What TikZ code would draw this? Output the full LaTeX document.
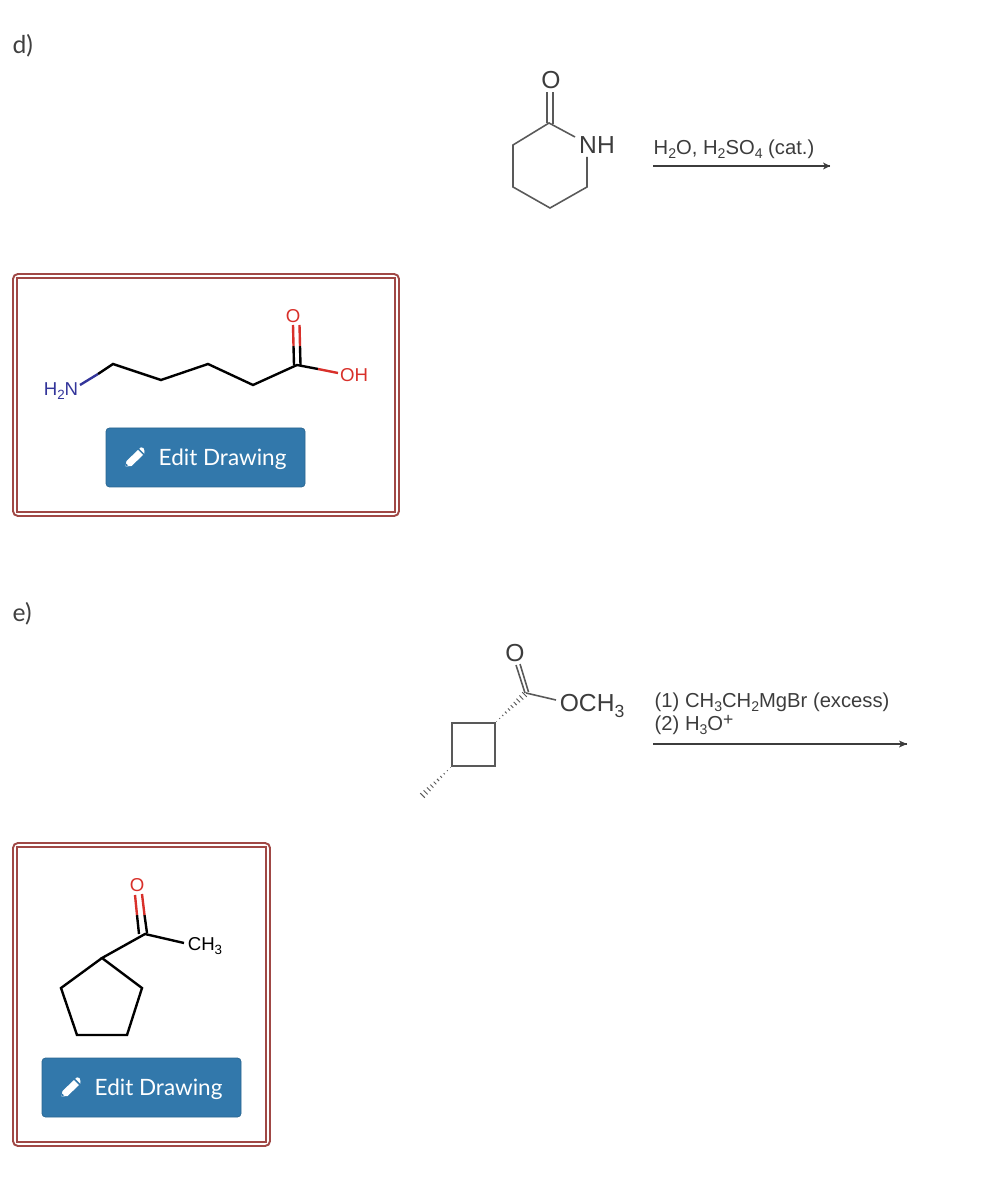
\documentclass[tikz,border=0pt]{standalone}
\usepackage{fontspec}
\setmainfont{Lato}
\newfontfamily\chemfont{Liberation Sans}
\usetikzlibrary{calc}
\definecolor{boxred}{HTML}{A04845}
\definecolor{btnblue}{HTML}{3278AB}
\definecolor{oxred}{HTML}{D8302A}
\definecolor{niblue}{HTML}{33359A}
\definecolor{printgray}{HTML}{3C3C3C}
\tikzset{
	bond/.style={draw=black, line width=0.68pt, line join=miter},
	redbond/.style={draw=oxred, line width=0.68pt},
	bluebond/.style={draw=niblue, line width=0.68pt},
	printbond/.style={draw=printgray!85, line width=0.45pt, line join=miter},
	hashbond/.style={draw=printgray!85, line width=0.26pt},
	rxnarrow/.style={draw=printgray, line width=0.5pt},
	partlabel/.style={anchor=west, inner sep=0pt, font=\fontsize{7}{8}\selectfont, text=black!75},
	atomlabel/.style={inner sep=0.6pt, font=\chemfont\fontsize{5.3}{6}\selectfont},
	printatom/.style={inner sep=0.6pt, text=printgray, font=\chemfont\fontsize{7}{8}\selectfont},
	reagent/.style={anchor=west, inner sep=0pt, text=printgray, font=\chemfont\fontsize{5.75}{6}\selectfont},
	editbtn/.style={fill=btnblue, rounded corners=1pt, draw=btnblue!85!black, line width=0.2pt},
	edittext/.style={anchor=west, inner sep=0pt, text=white, font=\fontsize{6.4}{8}\selectfont},
}
\newcommand\Sb[2][4]{\raisebox{-0.4ex}{\fontsize{#1}{#1}\selectfont #2}}
\newcommand\Answerbox[4]{
	\draw[boxred, line width=0.55pt, rounded corners=1.4pt] (#1,#2) rectangle (#3,#4);
	\draw[boxred, line width=0.55pt] ($(#1,#2)+(4,4)$) rectangle ($(#3,#4)+(-4,-4)$);
	}
\newcommand\Pencil[2]{
	\begin{scope}[shift={(#1,#2)}]
		\fill[white] (-10,9.5) -- (-9,4) -- (2.5,-7) -- (7.5,-2) -- (-4,9) -- cycle;
		\fill[white] (3.8,-8.2) -- (5.5,-9.7) .. controls (7,-10.5) and (9.5,-8) .. (9,-6) -- (8.8,-3.3) -- cycle;
		\fill[btnblue] (-9.6,8.9) -- (-9.2,6.6) -- (-7.3,8.5) -- cycle;
	\end{scope}
	}
\newcommand\Hashes[2]{
	\foreach \t in {0.05,0.15,...,0.97}{
		\draw[hashbond] ($(#1)!\t!(#2)!{3.4*\t*0.2845pt}!90:(#2)$) -- ($(#1)!\t!(#2)!{3.4*\t*0.2845pt}!-90:(#2)$);
	}
	}

\begin{document}
\begin{tikzpicture}[x=0.01cm, y=-0.01cm]
	\useasboundingbox (0,0) rectangle (1000,1186);
	\node[partlabel] (labeld) at (12,46) {d)};
	\node[partlabel] (labele) at (12,614) {e)};

	% lactam
	\node[printatom] (lacO) at (551,80) {O};
	\node[printatom] (lacNH) at (597,145) {NH};
	\coordinate (lacA) at (549,123);
	\coordinate (lacB) at (513,145);
	\coordinate (lacC) at (513,187);
	\coordinate (lacD) at (550,208);
	\coordinate (lacE) at (587,187);
	\coordinate (lacN) at (587,157);
	\coordinate (lacF) at (575,137);
	\coordinate (lacO1) at (547,92);
	\coordinate (lacO2) at (553,92);
	\coordinate (lacA2) at (553,124);
	\draw[printbond] (lacF) -- (lacA) -- (lacB) -- (lacC) -- (lacD) -- (lacE) -- (lacN);
	\draw[printbond] (lacA) ++(-2,0) -- (lacO1);
	\draw[printbond] (lacA2) -- (lacO2);
	\node[reagent] (reagd) at (653,149) {H\Sb{2}O, H\Sb{2}SO\Sb{4} (cat.)};
	\coordinate (arrdA) at (653,166);
	\coordinate (arrdB) at (830,166);
	\draw[rxnarrow] (arrdA) -- (arrdB);
	\fill[printgray] (830,166) -- (823,162.5) -- (825,166) -- (823,169.5) -- cycle;

	% first answer
	\Answerbox{13}{274}{399}{516}
	\node[atomlabel, text=niblue] (amN) at (61,391) {H\Sb[3.8]{2}N};
	\node[atomlabel, text=oxred] (acO) at (293,316) {O};
	\node[atomlabel, text=oxred] (acOH) at (354,375.5) {OH};
	\coordinate (amA) at (80,385);
	\coordinate (amB) at (98,374);
	\coordinate (amC) at (113,364);
	\coordinate (amD) at (161,380);
	\coordinate (amE) at (208,364);
	\coordinate (amF) at (253,385);
	\coordinate (amG) at (297,365);
	\coordinate (amH) at (318,369);
	\coordinate (amI) at (338,373);
	\coordinate (dblA) at (293.5,346);
	\coordinate (dblB) at (293,325);
	\coordinate (dblC) at (294,365);
	\coordinate (dblD) at (300,346);
	\coordinate (dblE) at (299.5,325);
	\coordinate (dblF) at (300.5,365);
	\draw[bluebond] (amA) -- (amB);
	\draw[bond] (amB) -- (amC) -- (amD) -- (amE) -- (amF) -- (amG) -- (amH);
	\draw[redbond] (amH) -- (amI);
	\draw[bond] (dblC) -- (dblA);
	\draw[redbond] (dblA) -- (dblB);
	\draw[bond] (dblF) -- (dblD);
	\draw[redbond] (dblD) -- (dblE);
	\draw[editbtn] (106,428) rectangle (305,487);
	\Pencil{135.5}{457}
	\node[edittext] (editd) at (158,459) {Edit Drawing};

	% ester
	\node[printatom] (estO) at (515,653) {O};
	\node[printatom, anchor=west] (estOMe) at (557,706) {OCH\Sb[5]{3}};
	\coordinate (estA) at (452,723);
	\coordinate (estB) at (495,723);
	\coordinate (estC) at (495,766);
	\coordinate (estD) at (452,766);
	\coordinate (estE) at (526,693);
	\coordinate (estF) at (556,700);
	\coordinate (estG) at (421,797);
	\coordinate (estH) at (525,693);
	\coordinate (estI) at (516,665);
	\coordinate (estJ) at (528.5,692);
	\coordinate (estK) at (520,664);
	\draw[printbond] (estA) -- (estB) -- (estC) -- (estD) -- cycle;
	\draw[printbond] (estE) -- (estF);
	\draw[printbond] (estH) -- (estI);
	\draw[printbond] (estJ) -- (estK);
	\Hashes{estB}{estE}
	\Hashes{estD}{estG}
	\node[reagent] (reage) at (654,702) {(1) CH\Sb{3}CH\Sb{2}MgBr (excess)};
	\node[reagent] (reagf) at (654,725) {(2) H\Sb{3}O\raisebox{0.5ex}{\fontsize{5}{5}\selectfont +}};
	\coordinate (arreA) at (653,744);
	\coordinate (arreB) at (907,744);
	\draw[rxnarrow] (arreA) -- (arreB);
	\fill[printgray] (907,744) -- (899,740.5) -- (901,744) -- (899,747.5) -- cycle;

	% second answer
	\Answerbox{13}{843}{270}{1146}
	\node[atomlabel, text=oxred] (ketO) at (137,885) {O};
	\node[atomlabel, anchor=west] (ketMe) at (185,946) {CH\Sb[3.8]{3}};
	\coordinate (ketA) at (145,934);
	\coordinate (ketB) at (184,943);
	\coordinate (ketC) at (102,958);
	\coordinate (ketD) at (142,988);
	\coordinate (ketE) at (127,1035);
	\coordinate (ketF) at (77,1035);
	\coordinate (ketG) at (61,988);
	\coordinate (ketH) at (139,934);
	\coordinate (ketI) at (137,915);
	\coordinate (ketJ) at (135,895);
	\coordinate (ketK) at (147,933);
	\coordinate (ketL) at (144.5,915);
	\coordinate (ketM) at (142,894);
	\draw[bond] (ketB) -- (ketA) -- (ketC) -- (ketD) -- (ketE) -- (ketF) -- (ketG) -- (ketC);
	\draw[bond] (ketH) -- (ketI);
	\draw[redbond] (ketI) -- (ketJ);
	\draw[bond] (ketK) -- (ketL);
	\draw[redbond] (ketL) -- (ketM);
	\draw[editbtn] (42,1058) rectangle (241,1117);
	\Pencil{71.5}{1087}
	\node[edittext] (edite) at (94,1089) {Edit Drawing};
\end{tikzpicture}
\end{document}
